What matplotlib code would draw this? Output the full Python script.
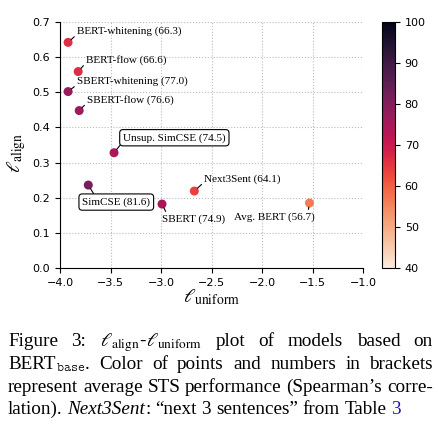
import matplotlib
matplotlib.use('Agg')
import matplotlib.pyplot as plt
import seaborn as sns
from matplotlib.colors import Normalize

# data
names = ['BERT-whitening', 'BERT-flow', 'SBERT-whitening', 'SBERT-flow',
         'Unsup. SimCSE', 'SimCSE', 'SBERT', 'Next3Sent', 'Avg. BERT']
uniform = [-3.92, -3.82, -3.92, -3.81, -3.465, -3.72, -2.99, -2.67, -1.53]
align = [0.642, 0.559, 0.502, 0.448, 0.328, 0.236, 0.182, 0.219, 0.185]
scores = [66.3, 66.6, 77.0, 76.6, 74.5, 81.6, 74.9, 64.1, 56.7]

# label placement (offset px, ha, relpos, boxed)
label_pos = [((9, 11), 'left', (0, 0.2), False),
             ((8, 12), 'left', (0, 0.2), False),
             ((9, 10), 'left', (0, 0.2), False),
             ((8, 11), 'left', (0, 0.2), False),
             ((9, 15), 'left', (0, 0.1), True),
             ((-6, -17), 'left', (0.2, 1), True),
             ((0, -15), 'left', (0.08, 1), False),
             ((10, 12), 'left', (0, 0.2), False),
             ((5, -14), 'right', (0.92, 1), False)]

plt.rcParams['mathtext.fontset'] = 'stix'
W, H = 445, 441
fig = plt.figure(figsize=(W / 100, H / 100), dpi=100)
ax = fig.add_axes([60 / W, 1 - 268 / H, 303 / W, 246 / H])
cax = fig.add_axes([382 / W, 1 - 268 / H, 13 / W, 246 / H])

cmap = sns.color_palette('rocket_r', as_cmap=True)
norm = Normalize(40, 100)
sc = ax.scatter(uniform, align, c=scores, cmap=cmap, norm=norm, s=42,
                linewidths=0, zorder=3)

for i, n in enumerate(names):
    (dx, dy), ha, rp, boxed = label_pos[i]
    bbox = dict(boxstyle='round,pad=0.3', fc='white', ec='black', lw=0.8) if boxed else None
    ax.annotate(f'{n} ({scores[i]:.1f})', (uniform[i], align[i]), xytext=(dx, dy),
                textcoords='offset pixels', ha=ha, va='center', fontsize=8,
                family='Liberation Serif', bbox=bbox, zorder=4,
                arrowprops=dict(arrowstyle='-', color='black', lw=0.8,
                                shrinkA=0, shrinkB=3, relpos=rp))

ax.set_xlim(-4, -1)
ax.set_ylim(0, 0.7)
ax.set_xticks([-4, -3.5, -3, -2.5, -2, -1.5, -1])
ax.set_yticks([0, 0.1, 0.2, 0.3, 0.4, 0.5, 0.6, 0.7])
ax.tick_params(labelsize=8, length=3.5, width=0.8)
ax.grid(True, linestyle=':', color='#bbbbbb', lw=0.8)
ax.set_axisbelow(True)
for s in ['top', 'right']:
    ax.spines[s].set_visible(False)
ax.set_xlabel(r'$\ell_{\rm uniform}$', fontsize=14, labelpad=0)
ax.set_ylabel(r'$\ell_{\rm align}$', fontsize=14)
ax.yaxis.set_label_coords(-0.105, 0.47)

cb = fig.colorbar(sc, cax=cax)
cb.set_ticks([40, 50, 60, 70, 80, 90, 100])
cb.ax.tick_params(labelsize=8, length=3.5, width=0.8)
cb.outline.set_linewidth(0.8)

# caption, justified like the paper
serif = dict(family='Liberation Serif', fontsize=13.8, va='baseline')
lines = [
    [['Figure'], ['3:'], [r'$\ell_{\rm align}$', '-', r'$\ell_{\rm uniform}$'],
     ['plot'], ['of'], ['models'], ['based'], ['on']],
    [['BERT', r'$_{\tt base}$', '.'], ['Color'], ['of'], ['points'], ['and'],
     ['numbers'], ['in'], ['brackets']],
    [['represent'], ['average'], ['STS'], ['performance'], ['(Spearman\u2019s'],
     ['corre-']],
    [['lation).'], [('Next3Sent', 'italic'), ':'], ['\u201cnext'], ['3'],
     ['sentences\u201d'], ['from'], ['Table'], [('3', 'link')]],
]
baselines = [346, 369, 392, 414]
x0, x1 = 8, 433
renderer = fig.canvas.get_renderer()
for li, words in enumerate(lines):
    y = 1 - baselines[li] / H
    arts = []
    for w in words:
        pieces = []
        for p in w:
            kw = dict(serif)
            if isinstance(p, tuple):
                p, st = p
                if st == 'italic':
                    kw['style'] = 'italic'
                else:
                    kw['color'] = '#1a1aa6'
            t = fig.text(0, y, p, **kw)
            pieces.append(t)
        arts.append(pieces)
    widths = [[t.get_window_extent(renderer).width for t in w] for w in arts]
    total = sum(sum(w) for w in widths)
    if li < len(lines) - 1:
        gap = (x1 - x0 - total) / (len(arts) - 1)
    else:
        gap = 4.8
    x = x0
    for w, ws in zip(arts, widths):
        for t, tw in zip(w, ws):
            t.set_x(x / W)
            x += tw
        x += gap

fig.savefig('out.png', dpi=100)
